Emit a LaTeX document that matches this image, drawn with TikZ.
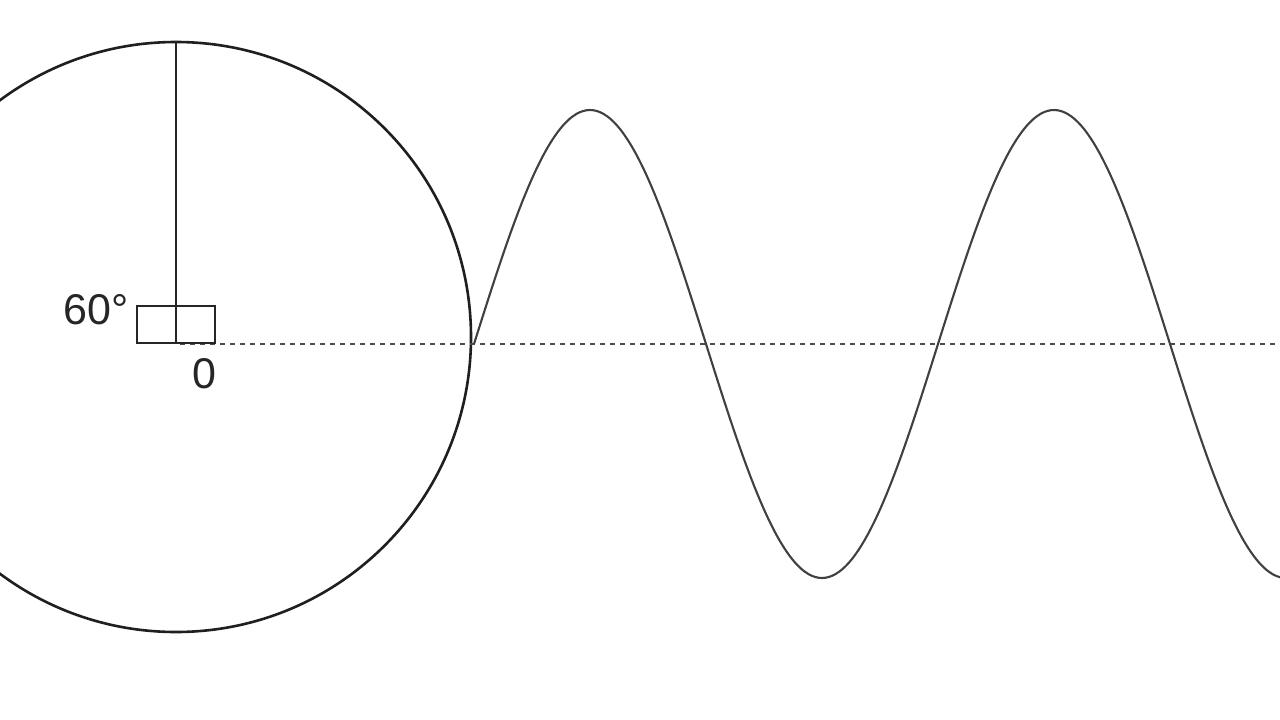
\documentclass[tikz,border=0pt]{standalone}
\usepackage{fontspec}
\setmainfont{Liberation Sans}
\begin{document}
\begin{tikzpicture}[x=1pt,y=-1pt,
  rim/.style={draw=black!88, line width=2.6pt},
  wave/.style={draw=black!75, line width=2.1pt},
  boxline/.style={draw=black!85, line width=2.2pt},
  axis/.style={draw=black!70, line width=1.6pt, dash pattern=on 5pt off 5pt},
  lbl/.style={font=\fontsize{43}{46}\selectfont, text=black!85, inner sep=0pt}]
\useasboundingbox (0,0) rectangle (1280,720);
\fill[white] (0,0) rectangle (1280,720);
\begin{scope}
\clip (0,0) rectangle (1280,720);
\coordinate (C) at (176,337);
\coordinate (T) at (176,42);
\coordinate (B) at (176,343);
\coordinate (E) at (1280,344);
\draw[rim] (C) circle (295);
\draw[axis] (180,344) -- (E);
\draw[boxline] (137,306) rectangle (215,343);
\draw[boxline] (T) -- (B);
\draw[wave] plot[domain=474:1290, samples=240, smooth] (\x, {344 - 234*sin((\x-474)/464*360)});
\end{scope}
\node[lbl] (ang) at (96,310) {60°};
\node[lbl] (zero) at (204,374) {0};
\end{tikzpicture}
\end{document}
